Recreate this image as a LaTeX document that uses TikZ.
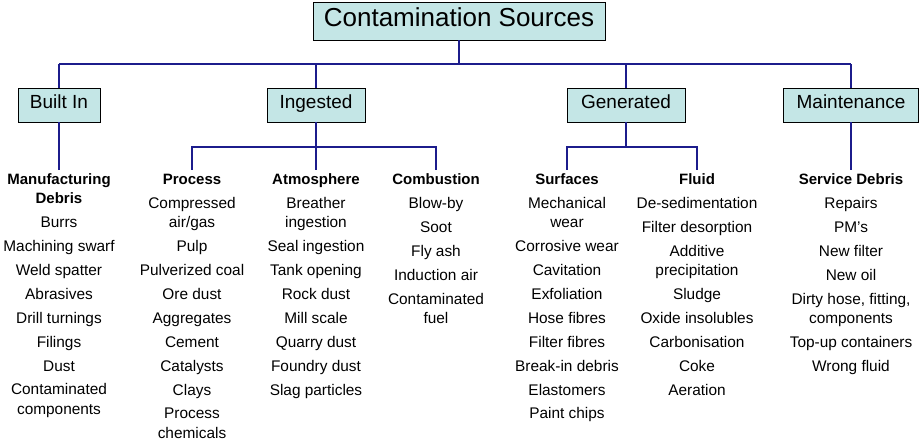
\documentclass[tikz,border=0pt]{standalone}
\usepackage{fontspec}
\setmainfont{Liberation Sans}
\definecolor{boxfill}{HTML}{C4E6E6}
\definecolor{linec}{HTML}{1C1C8C}
\begin{document}
\begin{tikzpicture}[x=1pt,y=-1pt,
 box/.style={draw=black,fill=boxfill,minimum height=34pt,inner sep=0pt,text height=13pt,text depth=5pt,font=\fontsize{19}{22}\selectfont},
 conn/.style={draw=linec,line width=1.3pt},
 it/.style={font=\fontsize{15.4}{17}\selectfont,inner sep=0pt,text height=11pt,text depth=3.5pt,anchor=center,yshift=-2pt},
 hd/.style={it,font=\fontsize{15}{17}\selectfont\bfseries}]
\useasboundingbox (0,0) rectangle (921,443);
\node[box,minimum width=292pt,minimum height=38pt,text height=18pt,text depth=6pt,font=\fontsize{26}{30}\selectfont] (top) at (459,21) {Contamination Sources};
\node[box,minimum width=82pt] (b1) at (59,105) {Built In};
\node[box,minimum width=98pt] (b2) at (316,105) {Ingested};
\node[box,minimum width=118pt] (b3) at (626,105) {Generated};
\node[box,minimum width=135pt] (b4) at (851,105) {Maintenance};
\coordinate (j) at (459,64);
\coordinate (h1) at (59,64); \coordinate (h4) at (851,64);
\draw[conn] (top.south) -- (j);
\draw[conn] (h1) -- (h4);
\foreach \n in {b1,b2,b3,b4} \draw[conn] (\n.north) -- (\n.north |- j);
\coordinate (c1) at (59,170);
\coordinate (i1) at (192,147); \coordinate (i3) at (436,147);
\coordinate (g1) at (567,147); \coordinate (g2) at (697,147);
\coordinate (c4) at (851,170);
\draw[conn] (b1.south) -- (c1);
\draw[conn] (b4.south) -- (c4);
\draw[conn] (b2.south) -- (316,170);
\draw[conn] (192,170) -- (i1) -- (i3) -- (436,170);
\draw[conn] (b3.south) -- (626,147);
\draw[conn] (567,170) -- (g1) -- (g2) -- (697,170);
\foreach \x/\y/\t [count=\i] in {59/179/Manufacturing,59/198/Debris,192/179/Process,316/179/Atmosphere,436/179/Combustion,567/179/Surfaces,697/179/Fluid,851/179/Service Debris}
 \node[hd] (h\i) at (\x,\y) {\t};
\foreach \x/\y/\t [count=\i] in {
59/222/Burrs,59/246/Machining swarf,59/270/Weld spatter,59/294/Abrasives,59/318/Drill turnings,59/342/Filings,59/366/Dust,59/389/Contaminated,59/409/components,
192/203/Compressed,192/222/{air/gas},192/246/Pulp,192/270/Pulverized coal,192/294/Ore dust,192/318/Aggregates,192/342/Cement,192/366/Catalysts,192/390/Clays,192/413/Process,192/433/chemicals,
316/203/Breather,316/222/ingestion,316/246/Seal ingestion,316/270/Tank opening,316/294/Rock dust,316/318/Mill scale,316/342/Quarry dust,316/366/Foundry dust,316/390/Slag particles,
436/203/Blow-by,436/227/Soot,436/251/Fly ash,436/275/Induction air,436/299/Contaminated,436/318/fuel,
567/203/Mechanical,567/222/wear,567/246/Corrosive wear,567/270/Cavitation,567/294/Exfoliation,567/318/Hose fibres,567/342/Filter fibres,567/366/Break-in debris,567/390/Elastomers,567/413/Paint chips,
697/203/De-sedimentation,697/227/Filter desorption,697/251/Additive,697/270/precipitation,697/294/Sludge,697/318/Oxide insolubles,697/342/Carbonisation,697/366/Coke,697/390/Aeration,
851/203/Repairs,851/227/PM's,851/251/New filter,851/275/New oil,851/299/{Dirty hose, fitting,},851/318/components,851/342/Top-up containers,851/366/Wrong fluid}
 \node[it] (t\i) at (\x,\y) {\t};
\end{tikzpicture}
\end{document}
